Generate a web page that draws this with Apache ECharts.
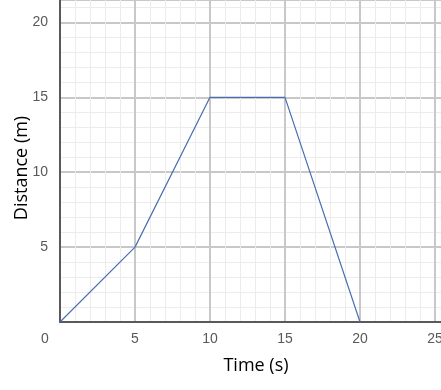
<!DOCTYPE html>
<html><head><meta charset="utf-8">
<script src="https://cdn.jsdelivr.net/npm/echarts@6/dist/echarts.min.js"></script>
<style>html,body{margin:0;padding:0;background:#fff}#c{width:441px;height:390px}</style>
</head><body><div id="c"></div>
<script>
const times = [0, 5, 10, 15, 20];
const distances = [0, 5, 15, 15, 0];
const xTitle = 'Time (s)';
const yTitle = 'Distance (m)';

const chart = echarts.init(document.getElementById('c'));
chart.setOption({
  animation: false,
  grid: { left: 60, top: 0, right: -3, bottom: 68, containLabel: false, outerBoundsMode: 'none' },
  xAxis: {
    type: 'value', min: 0, max: 25.6, interval: 5,
    name: xTitle, nameLocation: 'middle', nameGap: 35, nameMoveOverlap: false,
    nameTextStyle: { color: '#000', fontSize: 18, fontFamily: 'Open Sans', padding: [0, 0, 0, 8] },
    axisLine: { show: true, lineStyle: { color: '#595959', width: 2 } },
    axisTick: { show: false },
    axisLabel: { color: '#595959', fontSize: 14, fontFamily: 'Liberation Sans', margin: 10, showMaxLabel: false,
      formatter: v => v === 0 ? '{z|0}' : String(v),
      rich: { z: { color: '#595959', fontSize: 14, fontFamily: 'Liberation Sans', padding: [0, 30, 0, 0] } } },
    splitLine: { show: true, lineStyle: { color: '#c8c8c8', width: 2 } },
    minorTick: { show: false, splitNumber: 5 },
    minorSplitLine: { show: true, lineStyle: { color: '#ececec', width: 1 } }
  },
  yAxis: {
    type: 'value', min: 0, max: 21.5, interval: 5,
    name: yTitle, nameLocation: 'middle', nameGap: 29, nameMoveOverlap: false,
    nameTextStyle: { color: '#000', fontSize: 18, fontFamily: 'Open Sans', padding: [0, 14, 0, 0] },
    axisLine: { show: true, lineStyle: { color: '#595959', width: 2 } },
    axisTick: { show: false },
    axisLabel: { color: '#595959', fontSize: 14, fontFamily: 'Liberation Sans', margin: 12, showMaxLabel: false,
      formatter: v => v === 0 ? '' : String(v) },
    splitLine: { show: true, lineStyle: { color: '#c8c8c8', width: 2 } },
    minorTick: { show: false, splitNumber: 5 },
    minorSplitLine: { show: true, lineStyle: { color: '#ececec', width: 1 } }
  },
  series: [{
    type: 'line',
    data: times.map((t, i) => [t, distances[i]]),
    symbol: 'none',
    lineStyle: { color: '#4a6eb0', width: 1.2 }
  }]
});
</script></body></html>
